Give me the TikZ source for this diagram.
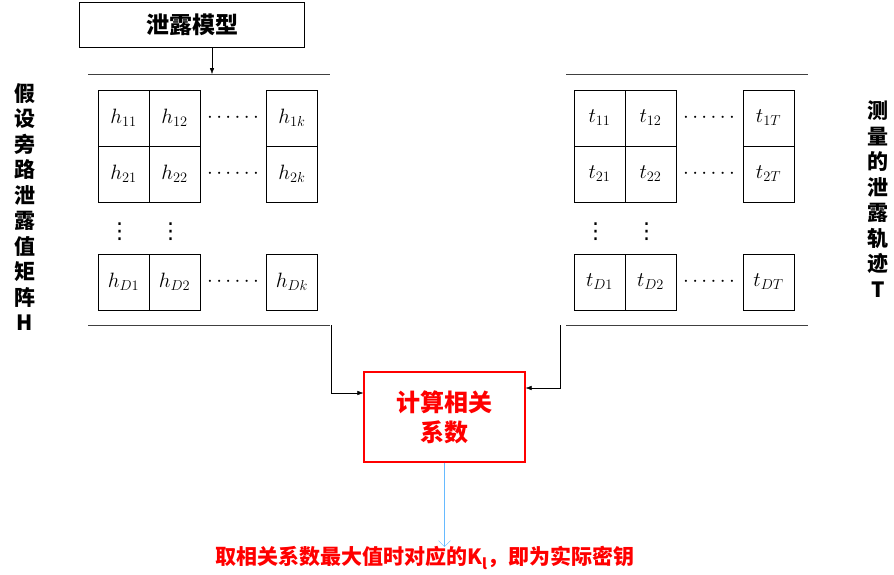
\documentclass[tikz,border=0pt]{standalone}
\usepackage{fontspec}
\newfontfamily\cjk{Noto Sans CJK SC}
\newfontfamily\djv{DejaVu Sans}
\usetikzlibrary{arrows.meta}
\begin{document}
\begin{tikzpicture}[x=1pt,y=-1pt,
 cell/.style={draw,minimum width=51pt,minimum height=56pt,inner sep=0,font=\fontsize{21}{24}\selectfont},
 dots/.style={font=\fontsize{21}{24}\selectfont,inner sep=0},
 vdot/.style={font=\djv\fontsize{22}{24}\selectfont,inner sep=0},
 vlab/.style={font=\cjk\bfseries\fontsize{21}{25.5}\selectfont,align=center,inner sep=0},
 rule/.style={draw=black!75,line width=0.9pt}]
\useasboundingbox (0,0) rectangle (894,574);
\node[draw,minimum width=225pt,minimum height=45pt,font=\cjk\bfseries\fontsize{23}{26}\selectfont] (model) at (192,24.5) {泄露模型};
\coordinate (mt) at (212,74);
\draw[-{Latex[length=6pt]}] (model.south -| mt) -- (mt);
\draw[rule] (88,74) -- (330,74);
\draw[rule] (566,74) -- (808,74);
\draw[rule] (88,325) -- (330,325);
\draw[rule] (566,325) -- (808,325);
% left matrix
\foreach \x/\c in {123.5/1,174.5/2}{
 \node[cell] (h1\c) at (\x,118) {$h_{1\c}$};
 \node[cell] (h2\c) at (\x,174) {$h_{2\c}$};
 \node[cell] (hD\c) at (\x,282) {$h_{D\c}$};
 \node[vdot] (hv\c) at (\x-4,232) {⋮};}
\node[cell] (h1k) at (292,118) {$h_{1k}$};
\node[cell] (h2k) at (292,174) {$h_{2k}$};
\node[cell] (hDk) at (292,282) {$h_{Dk}$};
\foreach \y/\n in {118/a,174/b,282/c}{\node[dots] (hd\n) at (233,\y) {$\cdots\cdots$};}
% right matrix
\foreach \x/\c in {599.5/1,650.5/2}{
 \node[cell] (t1\c) at (\x,118) {$t_{1\c}$};
 \node[cell] (t2\c) at (\x,174) {$t_{2\c}$};
 \node[cell] (tD\c) at (\x,282) {$t_{D\c}$};
 \node[vdot] (tv\c) at (\x-4,232) {⋮};}
\node[cell] (t1T) at (768.5,118) {$t_{1T}$};
\node[cell] (t2T) at (768.5,174) {$t_{2T}$};
\node[cell] (tDT) at (768.5,282) {$t_{DT}$};
\foreach \y/\n in {118/a,174/b,282/c}{\node[dots] (td\n) at (709,\y) {$\cdots\cdots$};}
% labels
\node[vlab] (lh) at (25,207) {假\\设\\旁\\路\\泄\\露\\值\\矩\\阵\\H};
\node[vlab] (lt) at (878,199) {测\\量\\的\\泄\\露\\轨\\迹\\T};
% compute box
\node[draw=red,line width=1.2pt,minimum width=161pt,minimum height=90pt,align=center,text=red,font=\cjk\bfseries\fontsize{24}{30}\selectfont] (calc) at (444.5,417) {计算相关\\系数};
\coordinate (lc) at (331,325);
\coordinate (rc) at (560,325);
\draw[-{Latex[length=6pt]}] (lc) |- ([yshift=24pt]calc.west);
\draw[-{Latex[length=6pt]}] (rc) |- ([yshift=29pt]calc.east);
\node[text=red,font=\cjk\bfseries\fontsize{21}{24}\selectfont] (res) at (425,558) {取相关系数最大值时对应的K\textsubscript{l}，即为实际密钥};
\draw[-{Straight Barb[length=6pt]},draw=blue!45!cyan!60] (calc.south) -- ([yshift=-4pt]res.north -| calc.south);
\end{tikzpicture}
\end{document}
